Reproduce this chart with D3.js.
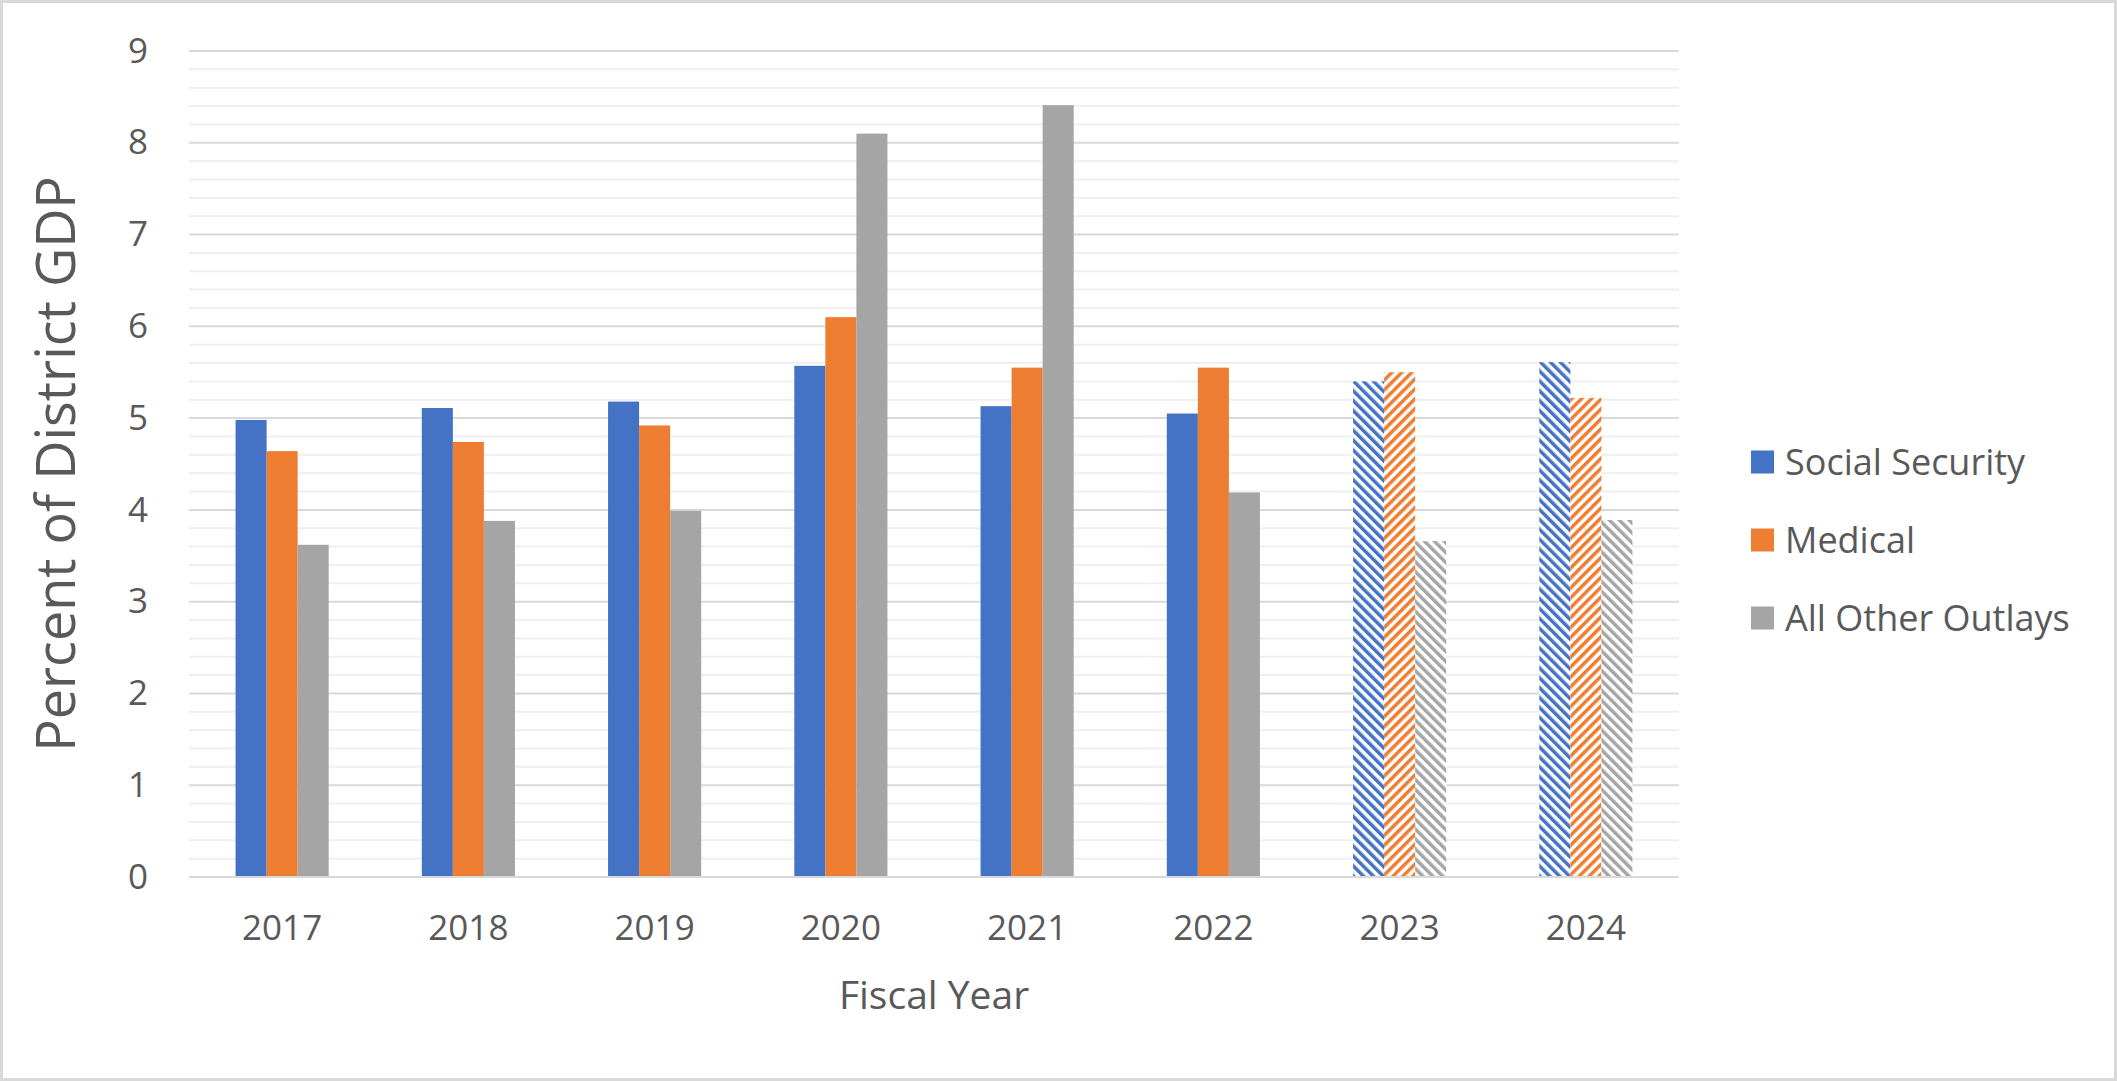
<!DOCTYPE html>
<html>
<head>
<meta charset="utf-8">
<script src="https://cdn.jsdelivr.net/npm/d3@7"></script>
<style>
  body { margin: 0; background: #fff; }
  text { font-family: "Open Sans", sans-serif; fill: #595959; }
</style>
</head>
<body>
<div id="chart"></div>
<script>
// values
var years = ['2017', '2018', '2019', '2020', '2021', '2022', '2023', '2024'];
var projectedYears = ['2023', '2024'];
var seriesNames = ['Social Security', 'Medical', 'All Other Outlays'];
var socialSecurity = [4.98, 5.11, 5.18, 5.57, 5.13, 5.05, 5.40, 5.61];
var medical = [4.64, 4.74, 4.92, 6.10, 5.55, 5.55, 5.50, 5.22];
var allOther = [3.62, 3.88, 3.99, 8.10, 8.41, 4.19, 3.66, 3.89];
var yTicks = [0, 1, 2, 3, 4, 5, 6, 7, 8, 9];

var colors = ['#4472C4', '#ED7D31', '#A5A5A5'];
var hatchAngle = [-45, 45, -45];
var seriesValues = [socialSecurity, medical, allOther];

var W = 2117, H = 1081;
var plotLeft = 189, plotRight = 1679, plotTop = 51, plotBottom = 877;

var svg = d3.select('#chart')
	.append('svg')
		.attr('width', W)
		.attr('height', H);

svg.append('rect')
	.attr('x', 1.5).attr('y', 1.5)
	.attr('width', W - 3).attr('height', H - 3)
	.attr('fill', '#fff')
	.attr('stroke', '#d9d9d9')
	.attr('stroke-width', 3);

// diagonal hatch patterns for the projected years
var defs = svg.append('defs');
colors.forEach(function(c, i) {
	var p = defs.append('pattern')
		.attr('id', 'hatch' + i)
		.attr('patternUnits', 'userSpaceOnUse')
		.attr('width', 7).attr('height', 7)
		.attr('patternTransform', 'rotate(' + hatchAngle[i] + ')');
	p.append('rect').attr('width', 7).attr('height', 7).attr('fill', '#fff');
	p.append('rect').attr('width', 3.5).attr('height', 7).attr('fill', c);
});

var x = d3.scaleBand().domain(years).range([plotLeft, plotRight]).padding(0);
var xs = d3.scaleBand().domain(seriesNames)
	.range([x.bandwidth() * 0.25, x.bandwidth() * 0.75]).padding(0);
var y = d3.scaleLinear().domain([0, 9]).range([plotBottom, plotTop]);

// minor gridlines every 0.2, major every 1
var minor = d3.range(0, 9.001, 0.2).filter(function(v) { return Math.abs(v - Math.round(v)) > 0.01; });
svg.append('g').selectAll('line').data(minor).enter().append('line')
	.attr('x1', plotLeft).attr('x2', plotRight)
	.attr('y1', function(d) { return y(d); })
	.attr('y2', function(d) { return y(d); })
	.attr('stroke', '#efefef')
	.attr('stroke-width', 2);
svg.append('g').selectAll('line').data(yTicks.slice(1)).enter().append('line')
	.attr('x1', plotLeft).attr('x2', plotRight)
	.attr('y1', function(d) { return y(d); })
	.attr('y2', function(d) { return y(d); })
	.attr('stroke', '#d9d9d9')
	.attr('stroke-width', 2);

// bars
var groups = svg.append('g').selectAll('g').data(years).enter().append('g')
	.attr('transform', function(d) { return 'translate(' + x(d) + ',0)'; });
groups.selectAll('rect')
	.data(function(yr, j) {
		return seriesNames.map(function(s, i) {
			return { year: yr, series: s, i: i, value: seriesValues[i][j] };
		});
	})
	.enter().append('rect')
		.attr('x', function(d) { return xs(d.series); })
		.attr('width', xs.bandwidth())
		.attr('y', function(d) { return y(d.value); })
		.attr('height', function(d) { return y(0) - y(d.value); })
		.attr('fill', function(d) {
			return projectedYears.indexOf(d.year) >= 0 ? 'url(#hatch' + d.i + ')' : colors[d.i];
		});

// x axis line
svg.append('line')
	.attr('x1', plotLeft).attr('x2', plotRight)
	.attr('y1', y(0)).attr('y2', y(0))
	.attr('stroke', '#d9d9d9')
	.attr('stroke-width', 2);

// axes
var yAxis = svg.append('g')
	.attr('transform', 'translate(' + plotLeft + ',0)')
	.call(d3.axisLeft(y).tickValues(yTicks).tickSize(0).tickPadding(41));
yAxis.select('.domain').remove();
yAxis.selectAll('text')
	.style('font-size', '35px')
	.style('font-family', '"Open Sans", sans-serif')
	.attr('fill', '#595959');

var xAxis = svg.append('g')
	.attr('transform', 'translate(0,' + plotBottom + ')')
	.call(d3.axisBottom(x).tickSize(0));
xAxis.select('.domain').remove();
xAxis.selectAll('text')
	.attr('y', 51)
	.attr('dy', '0.35em')
	.style('font-size', '35px')
	.style('font-family', '"Open Sans", sans-serif')
	.attr('fill', '#595959');

// axis titles
svg.append('text')
	.attr('x', (plotLeft + plotRight) / 2)
	.attr('y', 995)
	.attr('dy', '0.35em')
	.attr('text-anchor', 'middle')
	.style('font-size', '39px')
	.text('Fiscal Year');

svg.append('text')
	.attr('transform', 'translate(56,' + (plotTop + plotBottom) / 2 + ') rotate(-90)')
	.attr('dy', '0.35em')
	.attr('text-anchor', 'middle')
	.style('font-size', '54px')
	.text('Percent of District GDP');

// legend
var legend = svg.append('g').selectAll('g').data(seriesNames).enter().append('g')
	.attr('transform', function(d, i) { return 'translate(1751,' + (462 + i * 78) + ')'; });
legend.append('rect')
	.attr('y', -11.5)
	.attr('width', 23).attr('height', 23)
	.attr('fill', function(d, i) { return colors[i]; });
legend.append('text')
	.attr('x', 34)
	.attr('dy', '0.35em')
	.style('font-size', '36px')
	.text(function(d) { return d; });
</script>
</body>
</html>
